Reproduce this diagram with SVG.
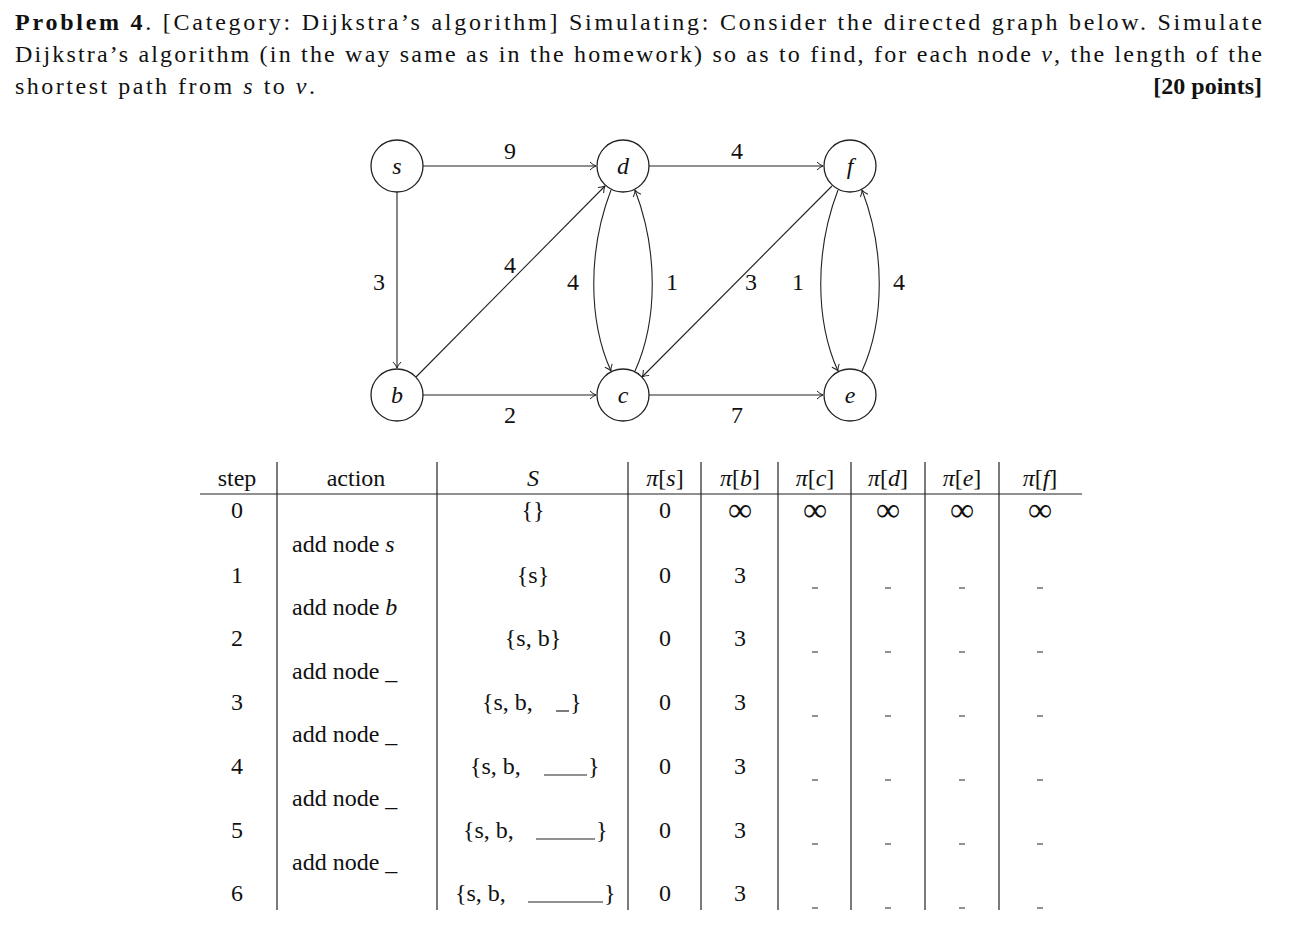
<svg xmlns="http://www.w3.org/2000/svg" width="1290" height="940" viewBox="0 0 1290 940">
<style>
text{font-family:"Liberation Serif","DejaVu Serif",serif;font-size:24px;fill:#111}
.i{font-style:italic}
.m{text-anchor:middle}
.inf{font-size:34px}
.n{fill:#fff;stroke:#222;stroke-width:1.3}
.e{fill:none;stroke:#222;stroke-width:1.1;marker-end:url(#a)}
.t{stroke:#222;stroke-width:1.2}
.u{stroke:#222;stroke-width:1.2}
</style>
<defs><marker id="a" markerWidth="10" markerHeight="10" refX="8" refY="5" orient="auto" markerUnits="userSpaceOnUse"><path d="M2,1 Q5,4 8,5 Q5,6 2,9" fill="none" stroke="#222" stroke-width="1"/></marker></defs>
<text x="15" y="30" textLength="1247" lengthAdjust="spacing"><tspan font-weight="bold">Problem 4</tspan>. [Category: Dijkstra’s algorithm] Simulating: Consider the directed graph below. Simulate</text>
<text x="15" y="62" textLength="1247" lengthAdjust="spacing">Dijkstra’s algorithm (in the way same as in the homework) so as to find, for each node <tspan class="i">v</tspan>, the length of the</text>
<text x="15" y="94" textLength="300" lengthAdjust="spacing">shortest path from <tspan class="i">s</tspan> to <tspan class="i">v</tspan>.</text>
<text x="1262" y="94" font-weight="bold" text-anchor="end" font-size="25">[20 points]</text>
<g id="edges">
<line class="e" x1="423" y1="166" x2="596" y2="166"/>
<line class="e" x1="649" y1="166" x2="823" y2="166"/>
<line class="e" x1="397" y1="192" x2="397" y2="368"/>
<line class="e" x1="423" y1="395" x2="596" y2="395"/>
<line class="e" x1="649" y1="395" x2="823" y2="395"/>
<line class="e" x1="416" y1="377" x2="605" y2="186"/>
<line class="e" x1="832" y1="186" x2="642" y2="377"/>
<path class="e" d="M611,190 C588,250 588,320 611,371"/>
<path class="e" d="M635,371 C658,320 658,250 635,190"/>
<path class="e" d="M838,190 C815,250 815,320 838,371"/>
<path class="e" d="M862,371 C885,320 885,250 862,190"/>
<text class="m" x="510" y="159">9</text>
<text class="m" x="737" y="159">4</text>
<text class="m" x="379" y="290">3</text>
<text class="m" x="510" y="273">4</text>
<text class="m" x="573" y="290">4</text>
<text class="m" x="672" y="290">1</text>
<text class="m" x="751" y="290">3</text>
<text class="m" x="798" y="290">1</text>
<text class="m" x="899" y="290">4</text>
<text class="m" x="510" y="423">2</text>
<text class="m" x="737" y="423">7</text>
</g>
<g id="s"><circle class="n" cx="397" cy="166" r="26"/><text class="m i" x="397" y="174">s</text></g>
<g id="d"><circle class="n" cx="623" cy="166" r="26"/><text class="m i" x="623" y="174">d</text></g>
<g id="f"><circle class="n" cx="850" cy="166" r="26"/><text class="m i" x="850" y="174">f</text></g>
<g id="b"><circle class="n" cx="397" cy="395" r="26"/><text class="m i" x="397" y="403">b</text></g>
<g id="c"><circle class="n" cx="623" cy="395" r="26"/><text class="m i" x="623" y="403">c</text></g>
<g id="e"><circle class="n" cx="850" cy="395" r="26"/><text class="m i" x="850" y="403">e</text></g>
<g id="table">
<line class="t" x1="200" y1="494" x2="1082" y2="494"/>
<line class="t" x1="277" y1="462" x2="277" y2="910"/>
<line class="t" x1="437" y1="462" x2="437" y2="910"/>
<line class="t" x1="628" y1="462" x2="628" y2="910"/>
<line class="t" x1="701" y1="462" x2="701" y2="910"/>
<line class="t" x1="778" y1="462" x2="778" y2="910"/>
<line class="t" x1="851" y1="462" x2="851" y2="910"/>
<line class="t" x1="925" y1="462" x2="925" y2="910"/>
<line class="t" x1="999" y1="462" x2="999" y2="910"/>
<text class="m" x="237" y="486">step</text>
<text class="m" x="356" y="486">action</text>
<text class="m i" x="533" y="486">S</text>
<text class="m" x="665" y="486"><tspan class="i">π</tspan>[<tspan class="i">s</tspan>]</text>
<text class="m" x="740" y="486"><tspan class="i">π</tspan>[<tspan class="i">b</tspan>]</text>
<text class="m" x="815" y="486"><tspan class="i">π</tspan>[<tspan class="i">c</tspan>]</text>
<text class="m" x="888" y="486"><tspan class="i">π</tspan>[<tspan class="i">d</tspan>]</text>
<text class="m" x="962" y="486"><tspan class="i">π</tspan>[<tspan class="i">e</tspan>]</text>
<text class="m" x="1040" y="486"><tspan class="i">π</tspan>[<tspan class="i">f</tspan>]</text>
<text class="m" x="237" y="518">0</text><text class="m" x="533" y="518">{}</text><text class="m" x="665" y="518">0</text>
<text class="m inf" x="740" y="521">∞</text><text class="m inf" x="815" y="521">∞</text><text class="m inf" x="888" y="521">∞</text><text class="m inf" x="962" y="521">∞</text><text class="m inf" x="1040" y="521">∞</text>
<text x="292" y="552">add node <tspan class="i">s</tspan></text>
<text x="292" y="615">add node <tspan class="i">b</tspan></text>
<text x="292" y="679">add node _</text>
<text x="292" y="742">add node _</text>
<text x="292" y="806">add node _</text>
<text x="292" y="870">add node _</text>
<text class="m" x="237" y="583">1</text><text class="m" x="533" y="583">{s}</text>
<text class="m" x="237" y="646">2</text><text class="m" x="533" y="646">{s, b}</text>
<text class="m" x="237" y="710">3</text><text x="482" y="710">{s, b, </text><text x="570" y="710">}</text><line class="u" x1="556" y1="711" x2="569" y2="711"/>
<text class="m" x="237" y="774">4</text><text x="470" y="774">{s, b, </text><text x="588" y="774">}</text><line class="u" x1="544" y1="775" x2="587" y2="775"/>
<text class="m" x="237" y="838">5</text><text x="463" y="838">{s, b, </text><text x="596" y="838">}</text><line class="u" x1="536" y1="839" x2="595" y2="839"/>
<text class="m" x="237" y="901">6</text><text x="455" y="901">{s, b, </text><text x="604" y="901">}</text><line class="u" x1="528" y1="902" x2="603" y2="902"/>
<text class="m" x="665" y="583">0</text><text class="m" x="740" y="583">3</text>
<text class="m" x="665" y="646">0</text><text class="m" x="740" y="646">3</text>
<text class="m" x="665" y="710">0</text><text class="m" x="740" y="710">3</text>
<text class="m" x="665" y="774">0</text><text class="m" x="740" y="774">3</text>
<text class="m" x="665" y="838">0</text><text class="m" x="740" y="838">3</text>
<text class="m" x="665" y="901">0</text><text class="m" x="740" y="901">3</text>
<path class="u" d="M812,588h6M885,588h6M959,588h6M1037,588h6M812,652h6M885,652h6M959,652h6M1037,652h6M812,716h6M885,716h6M959,716h6M1037,716h6M812,780h6M885,780h6M959,780h6M1037,780h6M812,844h6M885,844h6M959,844h6M1037,844h6M812,908h6M885,908h6M959,908h6M1037,908h6"/>
</g>
</svg>
